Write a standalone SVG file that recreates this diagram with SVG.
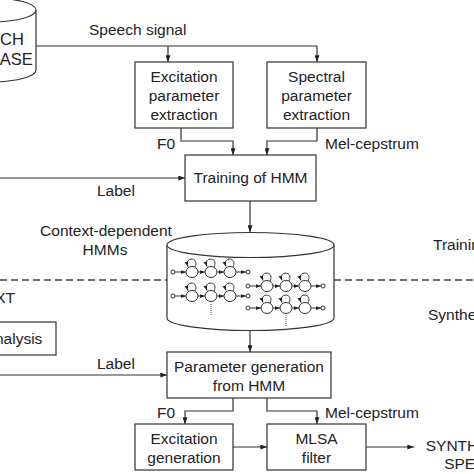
<svg xmlns="http://www.w3.org/2000/svg" width="474" height="474" viewBox="0 0 474 474">
<defs>
<style>
text{font-family:"Liberation Sans",Arial,sans-serif;font-size:15.5px;fill:#222}
.c{text-anchor:middle}
.box{fill:#fff;stroke:#333;stroke-width:1.2}
.ln{fill:none;stroke:#333;stroke-width:1.2}
.arr{fill:none;stroke:#333;stroke-width:1.2;marker-end:url(#ah)}
.st{fill:#fff;stroke:#333;stroke-width:1}
.tr{fill:none;stroke:#333;stroke-width:1;marker-end:url(#sh)}
.dash{fill:none;stroke:#444;stroke-width:1.3;stroke-dasharray:7 4}
.dot{fill:none;stroke:#444;stroke-width:1;stroke-dasharray:1 1}
</style>
<marker id="ah" viewBox="0 0 8 6" refX="8" refY="3" markerWidth="7" markerHeight="5" orient="auto" markerUnits="userSpaceOnUse"><path d="M0,0 L8,3 L0,6 z" fill="#222"/></marker>
<marker id="sh" viewBox="0 0 8 6" refX="8" refY="3" markerWidth="5" markerHeight="4" orient="auto" markerUnits="userSpaceOnUse"><path d="M0,0 L8,3 L0,6 z" fill="#222"/></marker>
<g id="state">
<ellipse class="st" cx="0" cy="0" rx="6" ry="5.5"/>
<path class="tr" d="M3,-5 C8,-15 -8,-16 -4,-5.5"/>
</g>
<g id="chain">
<circle class="st" cx="0" cy="0" r="2"/>
<line class="tr" x1="2" y1="0" x2="13" y2="0"/>
<use href="#state" x="19" y="0"/>
<line class="tr" x1="25" y1="0" x2="32" y2="0"/>
<use href="#state" x="38" y="0"/>
<line class="tr" x1="44" y1="0" x2="51" y2="0"/>
<use href="#state" x="57" y="0"/>
<line class="tr" x1="63" y1="0" x2="73" y2="0"/>
<circle class="st" cx="75" cy="0" r="2"/>
</g>
</defs>
<rect width="474" height="474" fill="#fff"/>

<g id="connectors">
<path class="ln" d="M36,46 H317"/>
<path class="arr" d="M168,46 V62"/>
<path class="arr" d="M317,46 V62"/>
<path class="arr" d="M181,128 V141 H233 V155"/>
<path class="arr" d="M317,128 V141 H267 V155"/>
<path class="arr" d="M0,178 H185"/>
<path class="arr" d="M250,201 V232"/>
<path class="arr" d="M250,331 V352"/>
<path class="arr" d="M0,375 H167"/>
<path class="arr" d="M233,398 V411 H185 V424"/>
<path class="arr" d="M267,398 V411 H317 V424"/>
<path class="arr" d="M233,447 H267"/>
<path class="arr" d="M366,447 H414"/>
<path class="dash" d="M0,280 H167 M334,280 H474"/>
</g>

<g id="speech-database">
<path class="box" d="M-56,10 V70 A46,12 0 0 0 36,70 V10"/>
<ellipse class="box" cx="-10" cy="10" rx="46" ry="12"/>
<text class="c" x="-10" y="45" style="font-size:16.5px">SPEECH</text>
<text class="c" x="-10" y="65" style="font-size:16.5px">DATABASE</text>
</g>
<text x="89" y="35">Speech signal</text>

<g id="excitation-extraction">
<rect class="box" x="135" y="62" width="98" height="66"/>
<text class="c" x="184" y="82">Excitation</text>
<text class="c" x="184" y="101">parameter</text>
<text class="c" x="184" y="120">extraction</text>
</g>
<g id="spectral-extraction">
<rect class="box" x="267" y="62" width="99" height="66"/>
<text class="c" x="316.5" y="82">Spectral</text>
<text class="c" x="316.5" y="101">parameter</text>
<text class="c" x="316.5" y="120">extraction</text>
</g>
<text x="157" y="149">F0</text>
<text x="325" y="149">Mel-cepstrum</text>

<g id="training">
<rect class="box" x="185" y="155" width="131" height="46"/>
<text class="c" x="250.5" y="183">Training of HMM</text>
</g>
<text x="97" y="196">Label</text>

<text class="c" x="106" y="236">Context-dependent</text>
<text class="c" x="105" y="255">HMMs</text>
<text x="433" y="250">Training part</text>
<text x="428" y="320">Synthesis part</text>

<g id="hmm-database">
<path class="box" d="M167,245 V318 A83.5,12.5 0 0 0 334,318 V245"/>
<ellipse class="box" cx="250.5" cy="245" rx="83.5" ry="12.5"/>
<use href="#chain" x="173" y="272"/>
<use href="#chain" x="173" y="296"/>
<use href="#chain" x="248" y="286"/>
<use href="#chain" x="248" y="308"/>
<path class="dot" d="M211,304 V316 M286,315 V327"/>
</g>

<text x="15" y="303" style="text-anchor:end">TEXT</text>
<g id="text-analysis">
<rect class="box" x="-60" y="322" width="116" height="33"/>
<text class="c" x="-2" y="344">Text analysis</text>
</g>
<text x="97" y="369">Label</text>

<g id="parameter-generation">
<rect class="box" x="167" y="352" width="164" height="46"/>
<text class="c" x="249" y="372">Parameter generation</text>
<text class="c" x="249" y="391">from HMM</text>
</g>
<text x="157" y="418">F0</text>
<text x="325" y="418">Mel-cepstrum</text>

<g id="excitation-generation">
<rect class="box" x="135" y="424" width="98" height="46"/>
<text class="c" x="184" y="444">Excitation</text>
<text class="c" x="184" y="463">generation</text>
</g>
<g id="mlsa-filter">
<rect class="box" x="267" y="424" width="99" height="46"/>
<text class="c" x="316.5" y="444">MLSA</text>
<text class="c" x="316.5" y="463">filter</text>
</g>
<text class="c" x="480" y="451">SYNTHESIZED</text>
<text class="c" x="476" y="469">SPEECH</text>
</svg>
